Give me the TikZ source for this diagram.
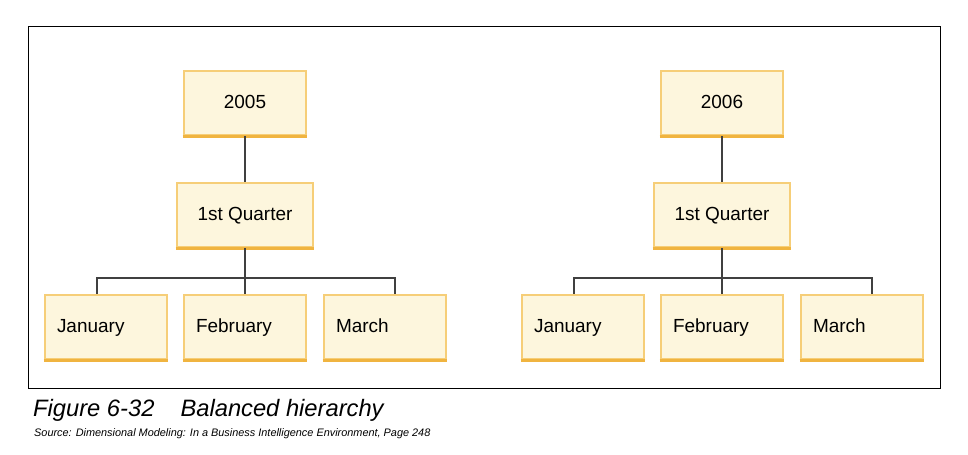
\documentclass[tikz,border=0pt]{standalone}
\usepackage{fontspec}
\setmainfont{Liberation Sans}
\begin{document}
\begin{tikzpicture}[x=0.02cm,y=-0.02cm,
  box/.style={draw=boxedge,line width=1.6pt,fill=boxfill,minimum width=2.44cm,minimum height=1.28cm,inner sep=0pt,text height=1.6ex,text depth=0.4ex,font=\fontsize{10.8}{12}\selectfont},
  leaf/.style={box,text width=1.96cm,align=left},
  con/.style={draw=black!75,line width=0.6pt}]
\definecolor{boxedge}{HTML}{F6CE78}
\definecolor{boxfill}{HTML}{FDF6DD}
\definecolor{boxbot}{HTML}{F0B440}
\useasboundingbox (0,0) rectangle (968,455);
\draw[line width=0.5pt] (28,26) rectangle (940,388);
\foreach \dx/\yr/\s in {0/2005/l,477/2006/r}{
  \begin{scope}[xshift=\dx*0.02cm]
  \node[box] (y\s) at (245,103) {\yr};
  \node[box,minimum width=2.72cm] (q\s) at (245,215) {1st Quarter};
  \node[leaf] (j\s) at (106,327) {January};
  \node[leaf] (f\s) at (245,327) {February};
  \node[leaf] (m\s) at (385,327) {March};
  \foreach \n in {y\s,q\s,j\s,f\s,m\s}
    \draw[boxbot,line width=2pt] (\n.south west)--(\n.south east);
  \coordinate (h\s) at (245,278);
  \draw[con] (y\s.south)--(q\s.north);
  \draw[con] (q\s.south)--(h\s);
  \draw[con] (j\s.north -| 97,0) |- (h\s) -| (m\s.north -| 395,0);
  \draw[con] (h\s)--(f\s.north);
  \end{scope}}
\node[anchor=west,font=\itshape\fontsize{13.5}{16}\selectfont] (cap) at (27,410) {Figure 6-32\hspace{1.1em}Balanced hierarchy};
\node[anchor=west,font=\itshape\fontsize{6.2}{7}\selectfont] (src) at (28,434) {Source: Dimensional Modeling: In a Business Intelligence Environment, Page 248};
\end{tikzpicture}
\end{document}
